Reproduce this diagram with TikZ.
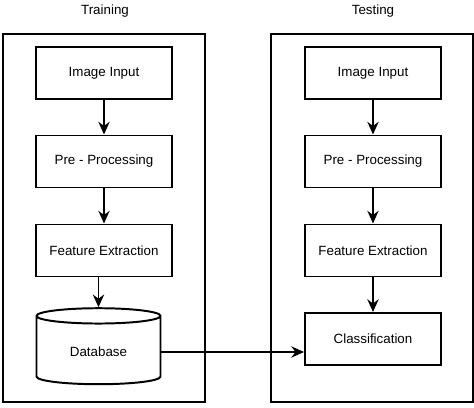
\documentclass[tikz,border=0pt]{standalone}
\usepackage{fontspec}
\setmainfont{Liberation Sans}
\usetikzlibrary{shapes.geometric,arrows.meta}
\tikzset{
  stage/.style={shape=rectangle,draw=black,line width=1.9pt,minimum width=5.05cm,minimum height=9.2cm},
  block/.style={shape=rectangle,draw=black,align=center,line width=1.4pt,minimum width=3.4cm,minimum height=1.3cm,font=\fontsize{9.5}{11}\selectfont},
  store/.style={shape=cylinder,shape border rotate=90,aspect=0.23,draw=black,line width=1.4pt,minimum width=3.1cm,minimum height=1.9cm,font=\fontsize{9.5}{11}\selectfont},
  flow/.style={-{Stealth[length=9pt,width=8pt]},draw=black,line width=1.4pt}
}
\begin{document}
\begin{tikzpicture}
\useasboundingbox (0,0) rectangle (11.85,10.175);
\node[stage] (train) at (2.6,4.725) {};
\node[stage] (test) at (9.3,4.725) {};
\node[font=\fontsize{9.5}{11}\selectfont] (traint) at (2.625,9.9) {Training};
\node[font=\fontsize{9.5}{11}\selectfont] (testt) at (9.325,9.9) {Testing};

\node[block] (in1) at (2.6,8.35) {Image Input};
\node[block] (pre1) at (2.6,6.1375) {Pre - Processing};
\node[block] (fe1) at (2.6,3.9125) {Feature Extraction};
\node[store] (db) at (2.4625,1.375) {Database};

\node[block] (in2) at (9.325,8.35) {Image Input};
\node[block] (pre2) at (9.325,6.1375) {Pre - Processing};
\node[block] (fe2) at (9.325,3.9125) {Feature Extraction};
\node[block] (cls) at (9.325,1.7) {Classification};

\draw [flow] (in1) -- (pre1);
\draw [flow] (pre1) -- (fe1);
\draw [flow] (fe1.south -| db.north) -- (db.north);
\draw [flow] (in2) -- (pre2);
\draw [flow] (pre2) -- (fe2);
\draw [flow] (fe2) -- (cls);
\draw [flow] (db.east) -- (db.east -| cls.west);
\end{tikzpicture}
\end{document}
